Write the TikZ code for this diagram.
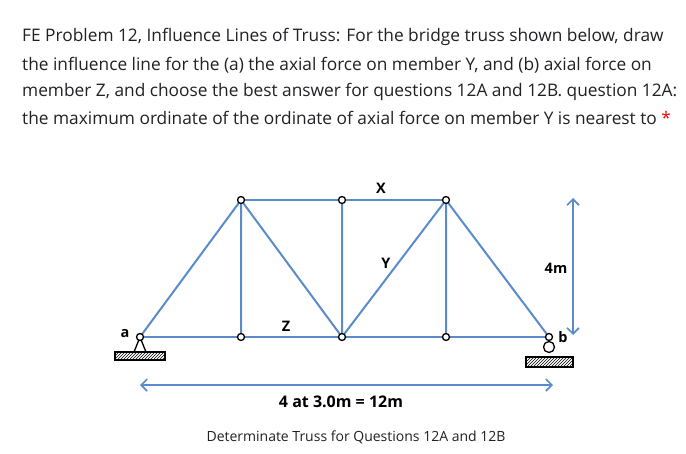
\documentclass[tikz,border=0pt]{standalone}
\usepackage{fontspec}
\setmainfont{Open Sans}
\usetikzlibrary{patterns,arrows.meta}
\definecolor{mem}{HTML}{5B8BC9}
\definecolor{txt}{HTML}{202124}
\begin{document}
\begin{tikzpicture}[x=1pt,y=-1pt,
  member/.style={mem,line width=2pt},
  joint/.style={circle,draw=black,fill=white,line width=1.3pt,inner sep=0pt,minimum size=7pt},
  lbl/.style={font=\bfseries\fontsize{14.5}{16}\selectfont,text=black},
  dim/.style={mem,line width=1.6pt,{Straight Barb[length=6pt,width=12pt]}-{Straight Barb[length=6pt,width=12pt]}},
  para/.style={anchor=west,text=txt,inner sep=0pt,font=\fontsize{17.3}{20}\selectfont}]
\useasboundingbox (0,0) rectangle (686,453);
\node[para] (p1) at (22,37) {FE Problem 12, Influence Lines of Truss: For the bridge truss shown below, draw};
\node[para] (p2) at (22,65) {the influence line for the (a) the axial force on member Y, and (b) axial force on};
\node[para] (p3) at (22,92) {member Z, and choose the best answer for questions 12A and 12B. question 12A:};
\node[para] (p4) at (22,118) {the maximum ordinate of the ordinate of axial force on member Y is nearest to \textcolor{red}{*}};
\coordinate (a) at (140,337);
\coordinate (b1) at (241,337);
\coordinate (b2) at (342,337);
\coordinate (b3) at (446,337);
\coordinate (b) at (549,337);
\coordinate (t1) at (241,200);
\coordinate (t2) at (342,200);
\coordinate (t3) at (446,200);
\draw[member] (a)--(b);
\draw[member] (t1)--(t3);
\draw[member] (a)--(t1)--(b1);
\draw[member] (t1)--(b2)--(t2);
\draw[member] (b2)--(t3)--(b3);
\draw[member] (t3)--(b);
\draw[black,line width=1.3pt] (a)--(134,352) (a)--(146,352);
\draw[black,line width=1.2pt,pattern=north east lines] (115,352) rectangle (165,360);
\node[circle,draw=black,line width=1.3pt,minimum size=11pt,inner sep=0pt] (roll) at (549,347) {};
\draw[black,line width=1.2pt,pattern=north east lines] (526,357) rectangle (573,367);
\foreach \p in {a,b1,b2,b3,b,t1,t2,t3} \node[joint] (j\p) at (\p) {};
\node[lbl] (la) at (125,334) {a};
\node[lbl] (lb) at (563,337) {b};
\node[lbl] (lx) at (381,188) {X};
\node[lbl] (ly) at (386,263) {Y};
\node[lbl] (lz) at (286,326) {Z};
\node[lbl] (l4) at (556,268) {4m};
\coordinate (d1) at (573,198); \coordinate (d2) at (573,335);
\draw[dim] (d1)--(d2);
\coordinate (e1) at (140,385); \coordinate (e2) at (553,385);
\draw[dim] (e1)--(e2);
\node[lbl,font=\bfseries\fontsize{16}{18}\selectfont] (l12) at (341,402) {4 at 3.0m = 12m};
\node[text=txt,font=\fontsize{14}{16}\selectfont] (cap) at (356,437) {Determinate Truss for Questions 12A and 12B};
\end{tikzpicture}
\end{document}
